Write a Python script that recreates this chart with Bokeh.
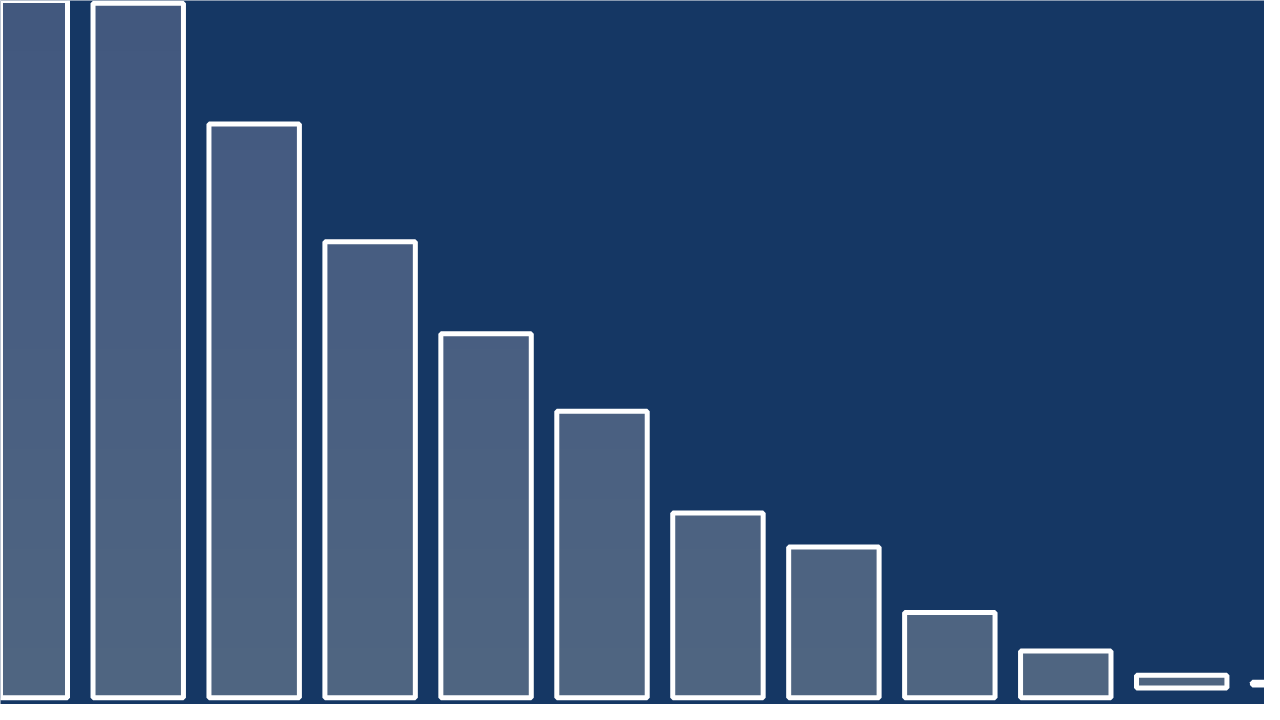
from bokeh.plotting import figure
from bokeh.models import ColumnDataSource, Range1d
from bokeh.embed import file_html
from bokeh.resources import INLINE

# Data (arbitrary units)
positions = [0, 1, 2, 3, 4, 5, 6, 7, 8, 9, 10, 11]
tops = [130.0, 99.6, 82.3, 65.4, 52.2, 41.1, 26.5, 21.6, 12.2, 6.7, 3.2, 2.2]
bottoms = [0.0, 0.0, 0.0, 0.0, 0.0, 0.0, 0.0, 0.0, 0.0, 0.0, 1.4, 1.8]

BG = "#153764"
FILL_TOP = "#41577d"
Y_MAX = 100.0
N_BANDS = 14

p = figure(
    width=1264, height=704,
    x_range=Range1d(-0.188, 10.714),
    y_range=Range1d(-0.98, Y_MAX),
    output_backend="svg", toolbar_location=None,
    min_border=0,
)
p.background_fill_color = BG
p.border_fill_color = BG
p.outline_line_color = None
p.xaxis.visible = False
p.yaxis.visible = False
p.xgrid.grid_line_color = None
p.ygrid.grid_line_color = None

# base fill (colour at the top of the screen)
p.vbar(x=positions, top=tops, bottom=bottoms, width=0.78,
       fill_color=FILL_TOP, line_color=None)

# soft vertical gradient: translucent layers that lighten the lower part of each bar
for k in range(1, N_BANDS + 1):
    level = Y_MAX * k / N_BANDS
    band_tops = [max(min(t, level), b) for t, b in zip(tops, bottoms)]
    p.vbar(x=positions, top=band_tops, bottom=bottoms, width=0.78,
           fill_color="white", fill_alpha=0.009, line_color=None)

# white outlines
src = ColumnDataSource(data=dict(x=positions, top=tops, bottom=bottoms))
p.vbar(x="x", top="top", bottom="bottom", width=0.78, source=src,
       fill_color=None, line_color="white", line_width=5)

open("out.html", "w").write(file_html(p, INLINE))
